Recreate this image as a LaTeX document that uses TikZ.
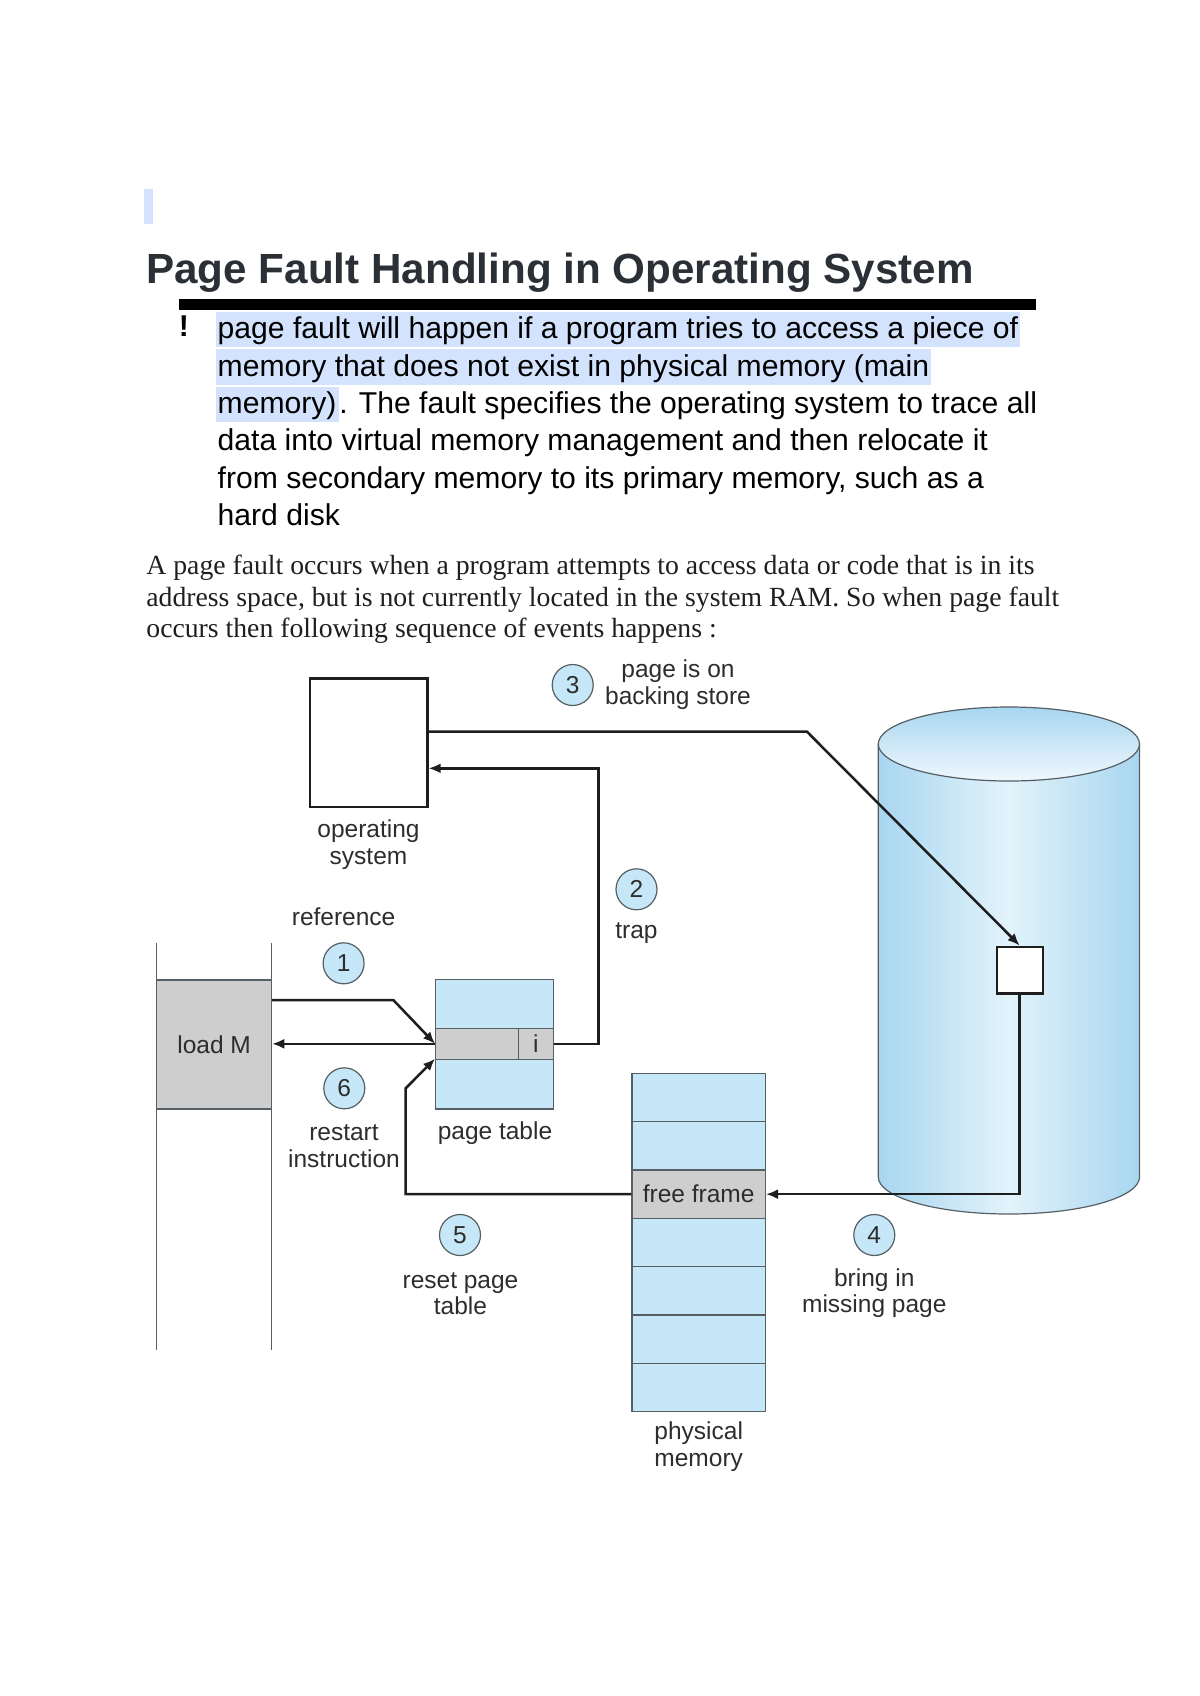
\documentclass[tikz,border=0pt]{standalone}
\usepackage{fontspec}
\setmainfont{Liberation Sans}
\newfontfamily\serifpara{Liberation Serif}
\usetikzlibrary{arrows.meta}

\newcommand{\pu}{0.175mm}
\definecolor{hlblue}{RGB}{211,227,253}
\definecolor{titlegray}{RGB}{42,48,54}
\definecolor{cellblue}{RGB}{198,231,248}
\definecolor{cellgray}{RGB}{206,206,206}
\definecolor{edgegray}{RGB}{85,95,100}
\definecolor{labelgray}{RGB}{45,45,45}
\definecolor{arrowblack}{RGB}{30,30,30}
\definecolor{diskside}{RGB}{168,214,240}
\definecolor{diskmid}{RGB}{226,243,251}
\definecolor{disktop}{RGB}{240,248,253}

\tikzset{
  pline/.style={inner xsep=1pt,inner ysep=0pt,anchor=base west,text height=13.4pt,text depth=4.3pt,font=\fontsize{15}{18.5}\selectfont},
  hl/.style={pline,fill=hlblue},
  sline/.style={inner sep=0pt,anchor=base west,text=black!88,font=\serifpara\fontsize{13.8}{15.6}\selectfont},
  lbl/.style={inner sep=0pt,align=center,text=labelgray,font=\fontsize{12.2}{13.3}\selectfont},
  num/.style={circle,draw=edgegray,fill=cellblue,line width=.6pt,minimum size=41*\pu,inner sep=0pt,text=labelgray,font=\fontsize{12.2}{12}\selectfont},
  cell/.style={draw=edgegray,line width=.6pt,fill=cellblue,inner sep=0pt,text=labelgray,font=\fontsize{12.2}{12}\selectfont},
  arr/.style={draw=arrowblack,line width=1.25pt,-{Latex[length=6pt,width=5pt]}},
}

\begin{document}
\begin{tikzpicture}[x=0.175mm,y=-0.175mm]
\useasboundingbox (0,0) rectangle (1200,1696);
% heading
\fill[hlblue] (144,189) rectangle (152.6,224);
\node[anchor=base west,inner sep=0pt,text=titlegray,font=\bfseries\fontsize{21}{25}\selectfont] (title) at (146,283.5) {Page Fault Handling in Operating System};
\fill[black] (178.5,298.7) rectangle (1035.6,309.5);
\node[anchor=base,inner sep=0pt,font=\bfseries\fontsize{15}{15}\selectfont] (bul) at (184,336) {!};
% bullet text
\node[hl] (p1) at (215.3,338.7) {page fault will happen if a program tries to access a piece of};
\node[hl] (p2) at (215.3,376.1) {memory that does not exist in physical memory (main};
\node[hl] (p3) at (215.3,413.5) {memory)};
\node[pline,inner xsep=0pt] (p3b) at (p3.base east) {. The fault specifies the operating system to trace all};
\node[pline] (p4) at (215.3,450.9) {data into virtual memory management and then relocate it};
\node[pline] (p5) at (215.3,488.3) {from secondary memory to its primary memory, such as a};
\node[pline] (p6) at (215.3,525.7) {hard disk};
% serif paragraph
\node[sline] (s1) at (146,574.6) {A page fault occurs when a program attempts to access data or code that is in its};
\node[sline] (s2) at (146,606) {address space, but is not currently located in the system RAM. So when page fault};
\node[sline] (s3) at (146,637.4) {occurs then following sequence of events happens :};

% backing store
\shade[left color=diskside,right color=diskside,middle color=diskmid,draw=edgegray,line width=.6pt] (878.3,744) -- (878.3,1177) arc[start angle=180,end angle=0,x radius=130.6,y radius=37] -- (1139.5,744) -- cycle;
\shade[top color=diskside,bottom color=disktop,draw=edgegray,line width=.6pt] (1008.9,744) ellipse [x radius=130.6,y radius=37];
\node[draw=arrowblack,line width=1.2pt,fill=white,minimum width=46*\pu,minimum height=46.6*\pu,inner sep=0pt] (dpage) at (1019.7,970) {};

% operating system
\node[draw=arrowblack,line width=1.2pt,minimum width=117.4*\pu,minimum height=128.4*\pu,inner sep=0pt] (os) at (368.7,742.5) {};
\node[lbl] (oslbl) at (368.5,845) {operating\\system};
\node[num] (n3) at (572.7,685) {3};
\node[lbl] (n3lbl) at (678,684.5) {page is on\\backing store};
\node[num] (n2) at (636.5,889.3) {2};
\node[lbl] (n2lbl) at (636.5,933) {trap};

% process
\draw[edgegray,line width=.7pt] (156.6,942.7) -- (156.6,1350);
\draw[edgegray,line width=.7pt] (271.6,942.7) -- (271.6,1350);
\node[cell,fill=cellgray,minimum width=115*\pu,minimum height=129*\pu] (loadm) at (214.1,1044.5) {load M};
\node[lbl] (n1lbl) at (343.6,916.7) {reference};
\node[num] (n1) at (343.6,963.3) {1};
\node[num] (n6) at (344.3,1088.3) {6};
\node[lbl] (n6lbl) at (344,1146.3) {restart\\instruction};

% page table
\node[cell,minimum width=117.6*\pu,minimum height=49*\pu] (ptop) at (494.5,1003.8) {};
\node[cell,fill=cellgray,minimum width=82.6*\pu,minimum height=31*\pu] (prow) at (477,1043.8) {};
\node[cell,fill=cellgray,minimum width=35*\pu,minimum height=31*\pu] (icell) at (535.8,1043.8) {i};
\node[cell,minimum width=117.6*\pu,minimum height=49.7*\pu] (pbot) at (494.5,1084.2) {};
\node[lbl] (ptlbl) at (495,1132.7) {page table};
\node[num] (n5) at (460,1235) {5};
\node[lbl] (n5lbl) at (460.5,1293.6) {reset page\\table};

% physical memory
\foreach \k in {1,2,4,5,6,7}
  \node[cell,minimum width=133.4*\pu,minimum height=48.34*\pu] (f\k) at (698.7,{1073.3+(\k-0.5)*48.34}) {};
\node[cell,fill=cellgray,minimum width=133.4*\pu,minimum height=48.34*\pu] (f3) at (698.7,1194.2) {free frame};
\node[lbl] (pmlbl) at (698.7,1446.5) {physical\\memory};
\node[num] (n4) at (874.3,1235) {4};
\node[lbl] (n4lbl) at (874.3,1293) {bring in\\missing page};

% steps
\coordinate (bsbend) at (807,731.7);
\coordinate (trapbend) at (598.5,768.3);
\coordinate (refbend) at (393.3,1000);
\coordinate (rsbend) at (405.7,1088.3);
\draw[arr] (loadm.east |- refbend) -- (refbend) -- (prow.west);
\draw[arr] (icell.east) -- (icell.east -| trapbend) -- (trapbend) -- (os.east |- trapbend);
\draw[arr] (os.east |- bsbend) -- (bsbend) -- (dpage.north);
\draw[arr] (dpage.south) -- (dpage.south |- f3.east) -- (f3.east);
\draw[arr] (f3.west) -- (f3.west -| rsbend) -- (rsbend) -- (pbot.north west);
\draw[arr] (prow.west) -- (loadm.east |- prow.west);
\end{tikzpicture}
\end{document}
